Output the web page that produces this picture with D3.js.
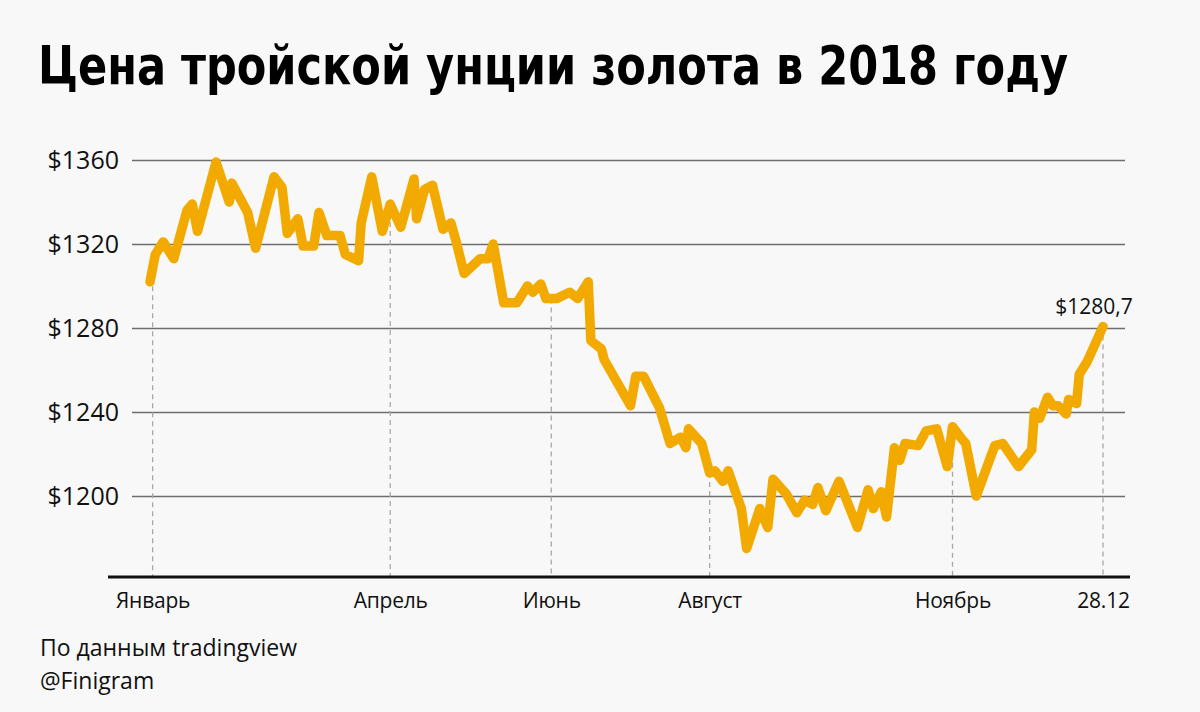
<!DOCTYPE html>
<html>
<head>
<meta charset="utf-8">
<script src="https://cdn.jsdelivr.net/npm/d3@7"></script>
<style>
  body { margin: 0; background: #f8f8f8; }
  svg { display: block; background: #f8f8f8; }
  .title { font-family: 'Liberation Sans Narrow', 'DejaVu Sans Condensed', 'Open Sans', sans-serif; font-weight: bold; font-size: 54px; fill: #000; }
  .tick-y { font-family: 'Open Sans', sans-serif; font-size: 25px; fill: #111; }
  .tick-x { font-family: 'Open Sans', sans-serif; font-size: 21px; fill: #111; letter-spacing: -0.2px; }
  .note { font-family: 'Open Sans', sans-serif; font-size: 21px; fill: #111; }
  .source { font-family: 'Open Sans', sans-serif; font-size: 23px; fill: #111; }
</style>
</head>
<body>
<svg width="1200" height="712"></svg>
<script>
const svg = d3.select('svg');

// gold price, 2018
const dates = [
  '2018-01-01','2018-01-03','2018-01-06','2018-01-10','2018-01-15','2018-01-17','2018-01-19','2018-01-26',
  '2018-01-31','2018-02-01','2018-02-07','2018-02-10','2018-02-17','2018-02-20','2018-02-22','2018-02-26',
  '2018-02-28','2018-03-04','2018-03-06','2018-03-09','2018-03-14','2018-03-16','2018-03-21','2018-03-22',
  '2018-03-26','2018-03-30','2018-04-02','2018-04-06','2018-04-11','2018-04-12','2018-04-15','2018-04-18',
  '2018-04-22','2018-04-25','2018-04-27','2018-04-30','2018-05-06','2018-05-09','2018-05-11','2018-05-15',
  '2018-05-20','2018-05-24','2018-05-26','2018-05-29','2018-05-31','2018-06-04','2018-06-09','2018-06-12',
  '2018-06-16','2018-06-17','2018-06-21','2018-06-22','2018-07-02','2018-07-04','2018-07-07','2018-07-13',
  '2018-07-17','2018-07-21','2018-07-23','2018-07-24','2018-07-29','2018-08-01','2018-08-03','2018-08-06',
  '2018-08-08','2018-08-13','2018-08-15','2018-08-20','2018-08-23','2018-08-25','2018-08-30','2018-09-03',
  '2018-09-06','2018-09-09','2018-09-11','2018-09-14','2018-09-19','2018-09-26','2018-09-30','2018-10-02',
  '2018-10-05','2018-10-07','2018-10-10','2018-10-12','2018-10-14','2018-10-19','2018-10-22','2018-10-26',
  '2018-10-30','2018-11-01','2018-11-04','2018-11-06','2018-11-10','2018-11-17','2018-11-20','2018-11-26',
  '2018-12-01','2018-12-02','2018-12-04','2018-12-07','2018-12-09','2018-12-11','2018-12-14','2018-12-15',
  '2018-12-18','2018-12-19','2018-12-22','2018-12-28'
];
const prices = [
  1302, 1315, 1321, 1313, 1336, 1339, 1326, 1359,
  1340, 1349, 1335, 1318, 1352, 1347, 1325, 1332,
  1319, 1319, 1335, 1324, 1324, 1315, 1312, 1330,
  1352, 1326, 1339, 1328, 1351, 1332, 1346, 1348,
  1327, 1330, 1321, 1306, 1313, 1313, 1320, 1292,
  1292, 1300, 1297, 1301, 1294, 1294, 1297, 1294,
  1302, 1274, 1270, 1265, 1243, 1257, 1257, 1242,
  1225, 1228, 1223, 1232, 1225, 1211, 1212, 1207,
  1212, 1194, 1175, 1194, 1185, 1208, 1201, 1192,
  1198, 1196, 1204, 1193, 1207, 1185, 1203, 1194,
  1202, 1190, 1223, 1217, 1225, 1224, 1231, 1232,
  1214, 1233, 1228, 1225, 1200, 1224, 1225, 1214,
  1222, 1240, 1237, 1247, 1243, 1243, 1239, 1246,
  1244, 1258, 1264, 1280.7
];

const yTicks = [1200, 1240, 1280, 1320, 1360];
const markDates = ['2018-01-02', '2018-04-02', '2018-06-02', '2018-08-01', '2018-11-01', '2018-12-28'];
const markLabels = ['Январь', 'Апрель', 'Июнь', 'Август', 'Ноябрь', '28.12'];

const title = 'Цена тройской унции золота в 2018 году';
const lastLabel = '$1280,7';
const source = ['По данным tradingview', '@Finigram'];

const parse = d3.timeParse('%Y-%m-%d');
const data = dates.map((d, i) => ({ date: parse(d), price: prices[i] }));

const xScale = d3.scaleTime()
  .domain([parse('2018-01-01'), parse('2018-12-28')])
  .range([150, 1103]);

const yScale = d3.scaleLinear()
  .domain([1200, 1360])
  .range([496, 160]);

const axisY = 577;

// title
svg.append('text')
  .attr('class', 'title')
  .attr('x', 38)
  .attr('y', 84)
  .attr('textLength', 1030)
  .attr('lengthAdjust', 'spacingAndGlyphs')
  .text(title);

// gridlines + y labels
const yAxis = d3.axisLeft(yScale)
  .tickValues(yTicks)
  .tickSize(-(1125 - 132))
  .tickPadding(13)
  .tickFormat(d => '$' + d);

const yAxisG = svg.append('g')
  .attr('transform', 'translate(132,0)')
  .call(yAxis);
yAxisG.select('.domain').remove();
yAxisG.selectAll('line').attr('stroke', '#6e6e6e').attr('stroke-width', 1.3);
yAxisG.selectAll('text')
  .attr('class', 'tick-y')
  .attr('font-family', null)
  .attr('font-size', null);

// value at a date along the line
const bisect = d3.bisector(d => d.date).left;
const valueAt = date => {
  const i = bisect(data, date);
  if (i <= 0) return data[0].price;
  if (i >= data.length) return data[data.length - 1].price;
  const a = data[i - 1], b = data[i];
  const t = (date - a.date) / (b.date - a.date);
  return a.price + t * (b.price - a.price);
};

// dashed drop lines
svg.append('g').selectAll('line')
  .data(markDates.map(parse))
  .enter().append('line')
  .attr('x1', d => xScale(d))
  .attr('x2', d => xScale(d))
  .attr('y1', d => yScale(valueAt(d)))
  .attr('y2', axisY)
  .attr('stroke', '#a8a8a8')
  .attr('stroke-width', 1.3)
  .attr('stroke-dasharray', '5,4');

// x axis
const xAxis = d3.axisBottom(xScale)
  .tickValues(markDates.map(parse))
  .tickSize(0)
  .tickPadding(16)
  .tickFormat((d, i) => markLabels[i]);

const xAxisG = svg.append('g')
  .attr('transform', `translate(0,${axisY})`)
  .call(xAxis);
xAxisG.select('.domain').remove();
xAxisG.selectAll('text')
  .attr('class', 'tick-x')
  .attr('font-family', null)
  .attr('font-size', null);

svg.append('line')
  .attr('x1', 108)
  .attr('x2', 1130)
  .attr('y1', axisY)
  .attr('y2', axisY)
  .attr('stroke', '#111')
  .attr('stroke-width', 3);

// price line
const line = d3.line()
  .x(d => xScale(d.date))
  .y(d => yScale(d.price));

svg.append('path')
  .datum(data)
  .attr('d', line)
  .attr('fill', 'none')
  .attr('stroke', '#f2aa00')
  .attr('stroke-width', 9.5)
  .attr('stroke-linejoin', 'round')
  .attr('stroke-linecap', 'round');

// last value
const last = data[data.length - 1];
svg.append('text')
  .attr('class', 'note')
  .attr('x', xScale(last.date) - 9)
  .attr('y', yScale(last.price) - 13)
  .attr('text-anchor', 'middle')
  .text(lastLabel);

// source
svg.append('g').selectAll('text')
  .data(source)
  .enter().append('text')
  .attr('class', 'source')
  .attr('x', 40)
  .attr('y', (d, i) => 656 + i * 33)
  .text(d => d);
</script>
</body>
</html>
